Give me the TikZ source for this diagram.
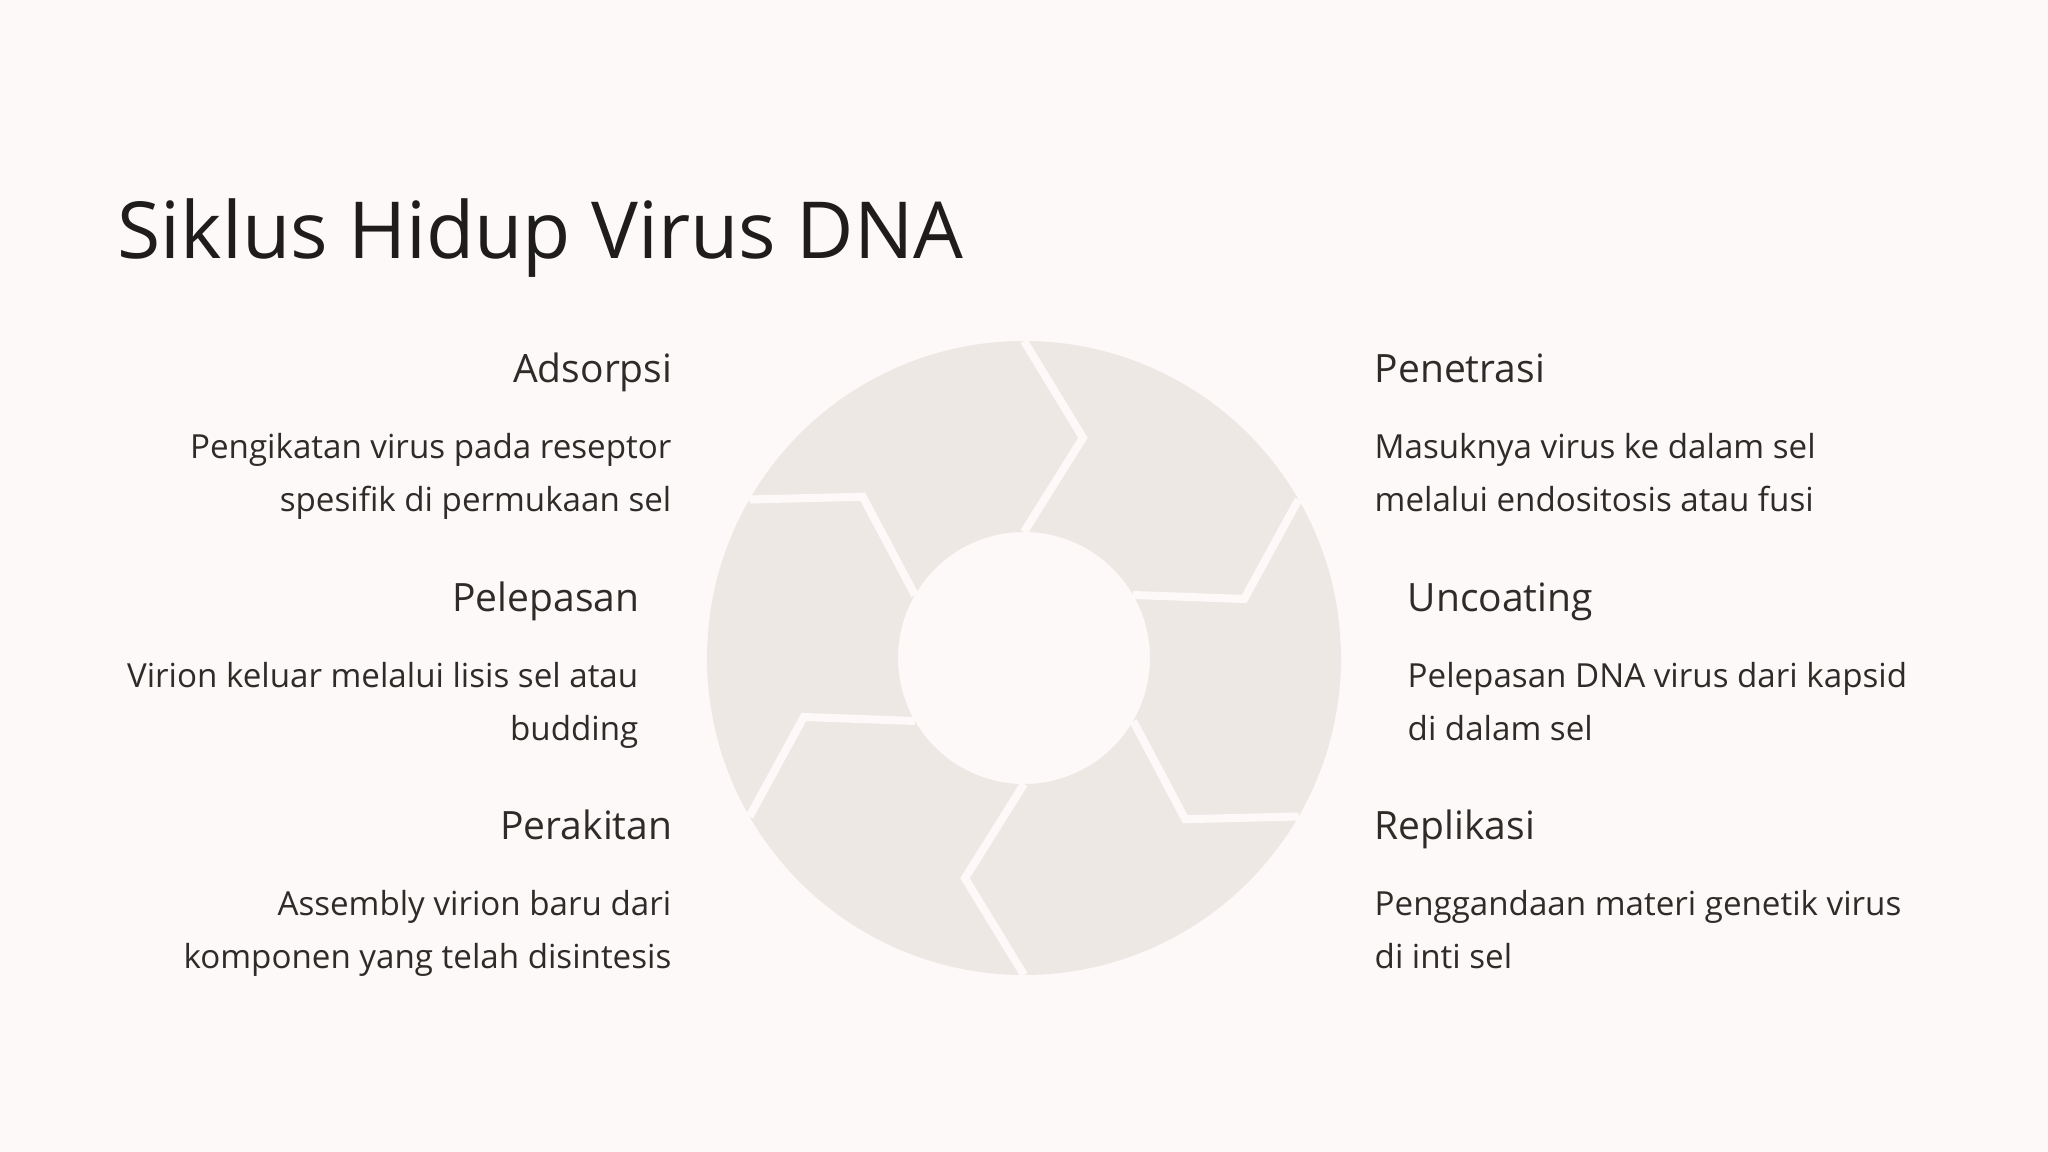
\documentclass[tikz,border=0pt]{standalone}
\usepackage{fontspec}
\setmainfont{Open Sans}
\usepackage{tikz}
\usetikzlibrary{calc, positioning}
\usepackage{xcolor}
\definecolor{bgcol}{HTML}{FDF9F8}
\definecolor{segcol}{HTML}{EEE8E5}
\definecolor{txtcol}{HTML}{2E2B29}
\definecolor{titlecol}{HTML}{1F1D1C}
\tikzstyle{stephead} = [%
  inner sep=0pt,
  text=txtcol,
  font=\fontsize{11.1pt}{13pt}\selectfont
]
\tikzstyle{stepbody} = [%
  inner sep=0pt,
  text=txtcol,
  font=\fontsize{9.43pt}{15.08pt}\selectfont
]

\begin{document}
\begin{tikzpicture}[%
  ringfill/.style={fill=segcol, even odd rule},
  gapline/.style={draw=bgcol, line width=0.08cm}
]

  % Background
  \useasboundingbox (0,0) rectangle (20.48,11.52);
  \fill[bgcol] (0,0) rectangle (20.48,11.52);

  % Title
  \node[anchor=base west, inner sep=0pt, text=titlecol,
        font=\fontsize{22.4pt}{27pt}\selectfont] (title) at (1.17,8.937) {Siklus Hidup Virus DNA};

  % Ring of six arrows
  \coordinate (c) at (10.24,4.94);
  \fill[ringfill] (c) circle (3.17) (c) circle (1.26);
  \foreach \a in {90,30,-30,-90,-150,-210}
    \draw[gapline] ($(c)+(\a:1.26)$) -- ($(c)+(\a-15:2.28)$) -- ($(c)+(\a:3.17)$);

  % Left steps
  \node[stephead, anchor=base east] (adsorpsi) at (6.73,7.69) {Adsorpsi};
  \node[stepbody, anchor=north east, align=right] (adsorpsiText) at (6.72,7.192)
    {Pengikatan virus pada reseptor\\spesifik di permukaan sel};
  \node[stephead, anchor=base east] (pelepasan) at (6.40,5.403) {Pelepasan};
  \node[stepbody, anchor=north east, align=right] (pelepasanText) at (6.39,4.905)
    {Virion keluar melalui lisis sel atau\\budding};
  \node[stephead, anchor=base east] (perakitan) at (6.73,3.12) {Perakitan};
  \node[stepbody, anchor=north east, align=right] (perakitanText) at (6.72,2.622)
    {Assembly virion baru dari\\komponen yang telah disintesis};

  % Right steps
  \node[stephead, anchor=base west] (penetrasi) at (13.74,7.69) {Penetrasi};
  \node[stepbody, anchor=north west, align=left] (penetrasiText) at (13.74,7.192)
    {Masuknya virus ke dalam sel\\melalui endositosis atau fusi};
  \node[stephead, anchor=base west] (uncoating) at (14.07,5.403) {Uncoating};
  \node[stepbody, anchor=north west, align=left] (uncoatingText) at (14.07,4.905)
    {Pelepasan DNA virus dari kapsid\\di dalam sel};
  \node[stephead, anchor=base west] (replikasi) at (13.74,3.12) {Replikasi};
  \node[stepbody, anchor=north west, align=left] (replikasiText) at (13.74,2.622)
    {Penggandaan materi genetik virus\\di inti sel};

\end{tikzpicture}
\end{document}
